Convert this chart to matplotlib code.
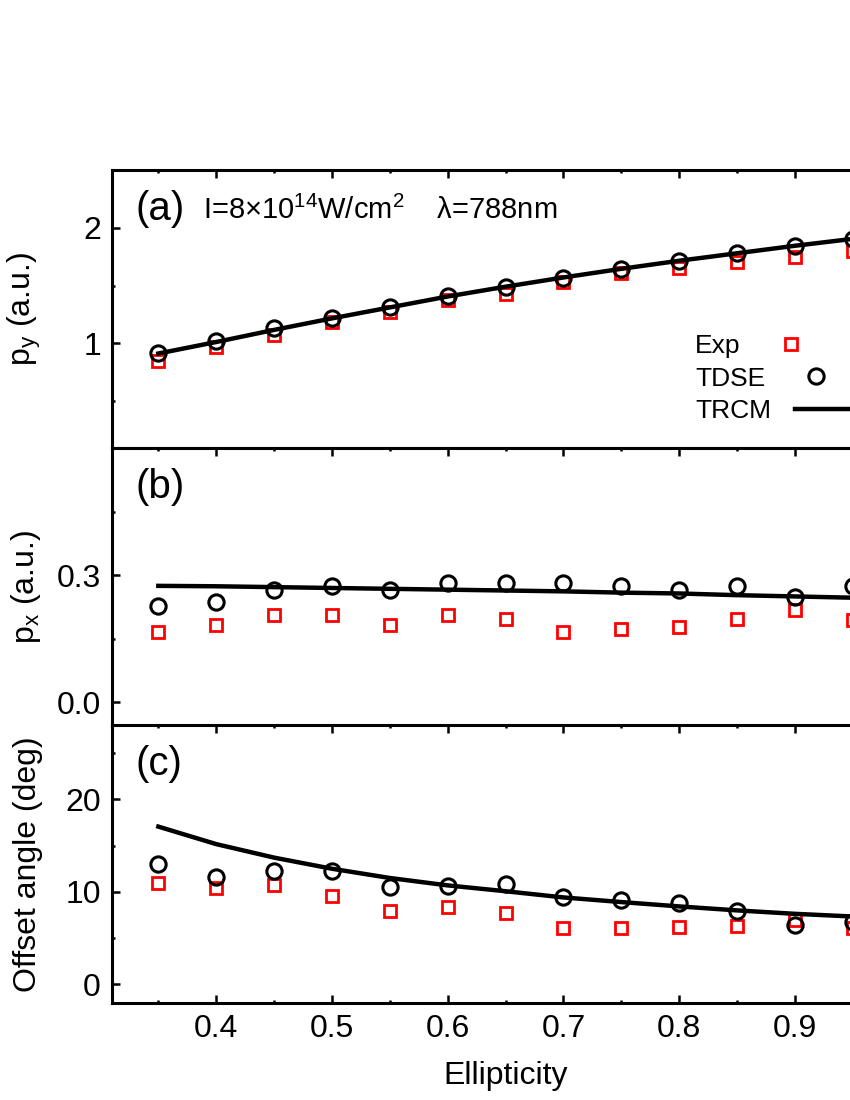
import matplotlib
matplotlib.use("Agg")
import matplotlib.pyplot as plt
from matplotlib.ticker import MultipleLocator

plt.rcParams['font.family'] = ['Liberation Sans', 'DejaVu Sans']
plt.rcParams['mathtext.fontset'] = 'custom'
plt.rcParams['mathtext.rm'] = 'Liberation Sans'
plt.rcParams['mathtext.it'] = 'Liberation Sans'
plt.rcParams['mathtext.default'] = 'regular'

# ellipticity
eps = [0.35, 0.40, 0.45, 0.50, 0.55, 0.60, 0.65, 0.70, 0.75, 0.80, 0.85, 0.90, 0.95]

# (a) p_y
py_exp = [0.846, 0.968, 1.07, 1.18, 1.27, 1.374, 1.43, 1.528, 1.606, 1.65, 1.707, 1.745, 1.80]
py_tdse = [0.916, 1.017, 1.128, 1.22, 1.316, 1.409, 1.49, 1.568, 1.643, 1.713, 1.78, 1.843, 1.90]
py_trcm = [0.91, 1.01, 1.115, 1.215, 1.31, 1.405, 1.49, 1.57, 1.645, 1.715, 1.78, 1.845, 1.905]

# (b) p_x
px_exp = [0.167, 0.183, 0.206, 0.206, 0.183, 0.205, 0.196, 0.165, 0.173, 0.179, 0.196, 0.218, 0.195]
px_tdse = [0.228, 0.2375, 0.265, 0.274, 0.265, 0.282, 0.282, 0.282, 0.274, 0.265, 0.274, 0.248, 0.274]
px_trcm = [0.275, 0.274, 0.272, 0.270, 0.268, 0.266, 0.264, 0.262, 0.259, 0.257, 0.253, 0.250, 0.247]

# (c) offset angle
ang_exp = [10.98, 10.4, 10.7, 9.6, 7.96, 8.36, 7.7, 6.07, 6.07, 6.18, 6.36, 6.98, 6.07]
ang_tdse = [12.98, 11.6, 12.3, 12.25, 10.5, 10.6, 10.8, 9.5, 9.16, 8.8, 7.96, 6.43, 6.8]
ang_trcm = [17.05, 15.16, 13.7, 12.5, 11.5, 10.7, 10.07, 9.4, 8.9, 8.43, 8.0, 7.63, 7.34]

fig = plt.figure(figsize=(8.5, 11), dpi=100)

left, width, h = 0.1318, 0.926, 0.2525
ax_a = fig.add_axes([left, 0.5927, width, h])
ax_b = fig.add_axes([left, 0.3400, width, h])
ax_c = fig.add_axes([left, 0.0882, width, h])

panels = [
    (ax_a, py_exp, py_tdse, py_trcm, (0.09, 2.5), [1, 2], 0.5, 'p$_y$ (a.u.)', '(a)'),
    (ax_b, px_exp, px_tdse, px_trcm, (-0.056, 0.6), [0.0, 0.3], 0.15, 'p$_x$ (a.u.)', '(b)'),
    (ax_c, ang_exp, ang_tdse, ang_trcm, (-2, 28), [0, 10, 20], 5, 'Offset angle (deg)', '(c)'),
]

for ax, e, t, r, ylim, yt, mnr, ylab, tag in panels:
    ax.plot(eps, e, ls='none', marker='s', ms=8.5, mfc='none', mec='#ff0000', mew=2.0,
            label='Exp', clip_on=False)
    ax.plot(eps, t, ls='none', marker='o', ms=11, mfc='none', mec='black', mew=2.2,
            label='TDSE', clip_on=False)
    ax.plot(eps, r, color='black', lw=3.2, label='TRCM')
    ax.set_xlim(0.31, 0.99)
    ax.set_ylim(*ylim)
    ax.xaxis.set_major_locator(MultipleLocator(0.1))
    ax.xaxis.set_minor_locator(MultipleLocator(0.05))
    ax.set_yticks(yt)
    ax.yaxis.set_minor_locator(MultipleLocator(mnr))
    for s in ax.spines.values():
        s.set_linewidth(2.2)
    ax.tick_params(which='both', direction='in', top=True, right=False,
                   width=1.8, labelsize=23, pad=8)
    ax.tick_params(which='major', length=5.5)
    ax.tick_params(which='minor', length=2.5)
    ax.set_ylabel(ylab, fontsize=23)
    ax.yaxis.set_label_coords(-0.088, 0.5)
    ax.text(0.03, 0.86, tag, transform=ax.transAxes, fontsize=29, va='center', ha='left')

# only the bottom panel keeps bottom ticks and labels
for ax in (ax_a, ax_b):
    ax.tick_params(which='both', bottom=False, labelbottom=False)

ax_c.set_xlabel('Ellipticity', fontsize=23, labelpad=12)

ax_a.text(0.115, 0.856, r'I=8$\times$10$^{14}$W/cm$^2$    $\lambda$=788nm',
          transform=ax_a.transAxes, fontsize=21, va='center', ha='left')

leg = ax_a.legend(loc='upper left', bbox_to_anchor=(0.741, 0.41), frameon=False,
                  markerfirst=False, fontsize=19, handlelength=2.0, handletextpad=0.9,
                  labelspacing=0.32, borderpad=0, borderaxespad=0, numpoints=1)
# text left-aligned, symbol right after each label (Origin style)
for col in leg._legend_handle_box.get_children():
    col.align = 'left'

fig.savefig('out.png', dpi=100)
